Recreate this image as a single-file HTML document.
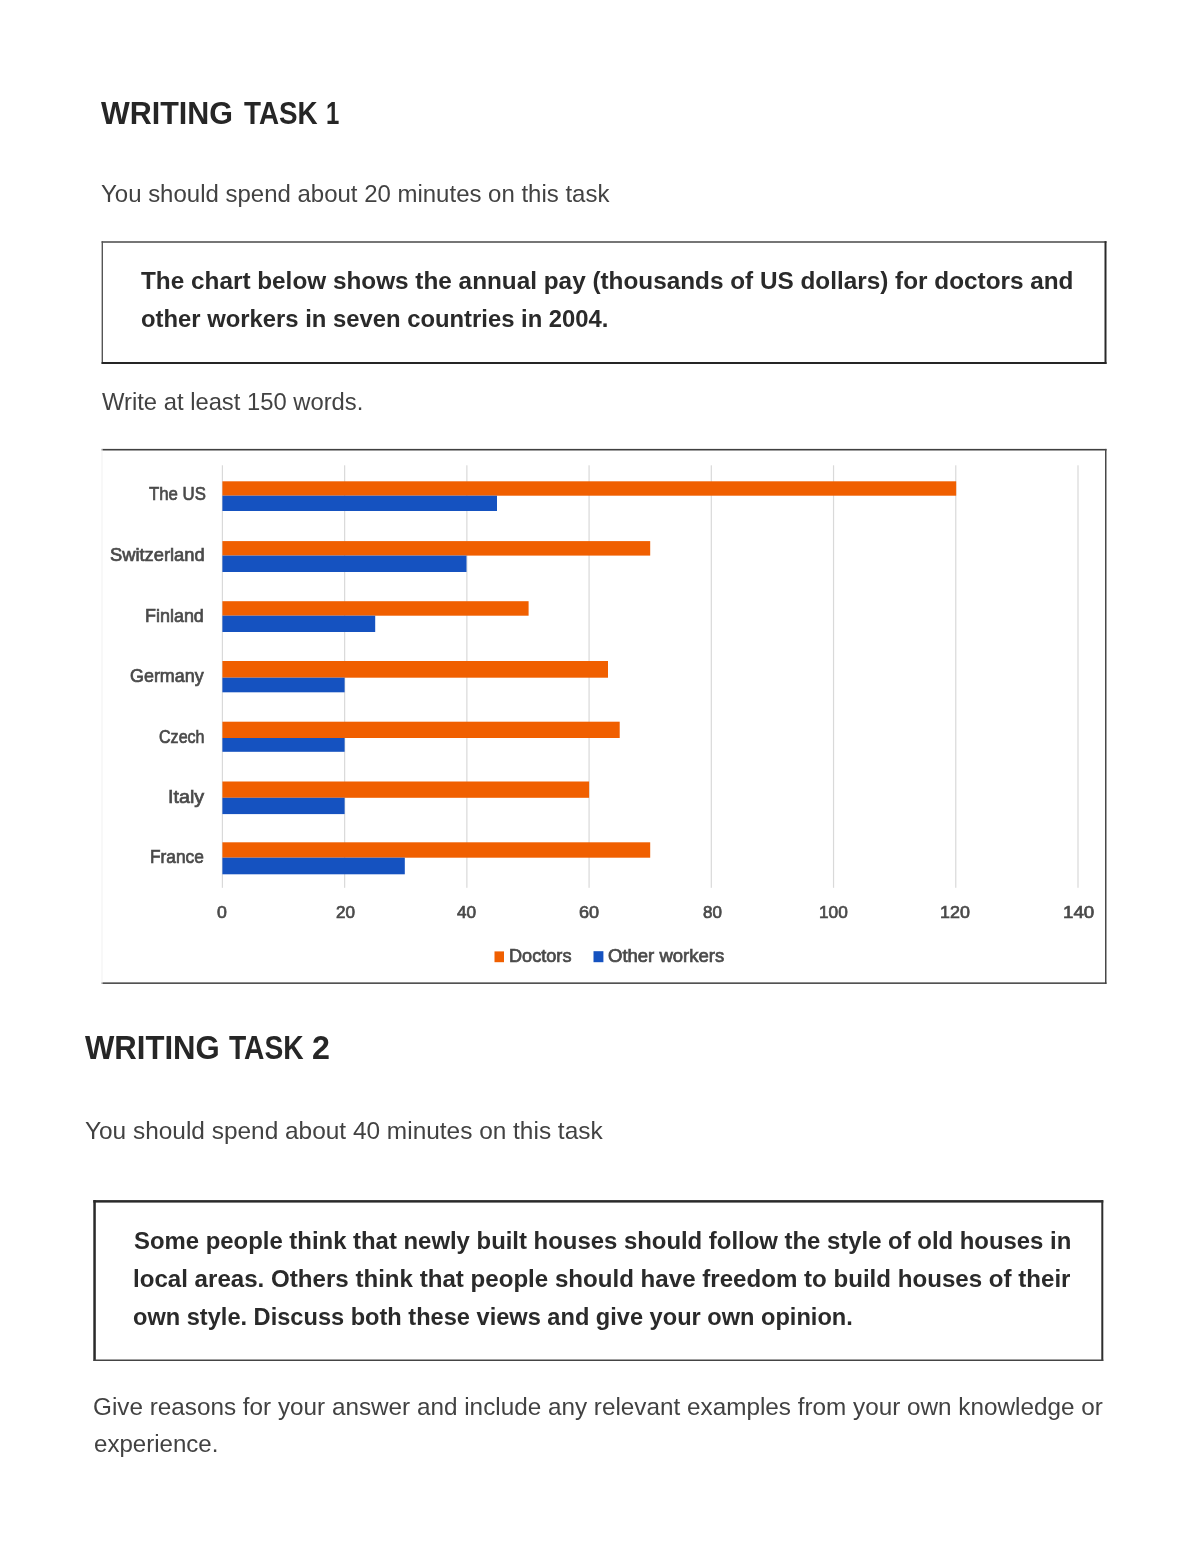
<!DOCTYPE html>
<html><head><meta charset="utf-8"><title>Writing Tasks</title><style>
html,body{margin:0;padding:0;background:#fff;width:1200px;height:1553px;overflow:hidden;}
body{position:relative;font-family:"Liberation Sans",sans-serif;}
.t{position:absolute;white-space:nowrap;transform-origin:0 0;}
svg{position:absolute;left:0;top:0;}
</style></head><body>
<svg width="1200" height="1553" viewBox="0 0 1200 1553">
<rect x="101.60" y="241.20" width="1004.90" height="1.60" fill="#555"/>
<rect x="101.60" y="241.20" width="1.40" height="122.80" fill="#555"/>
<rect x="1104.50" y="241.20" width="2.00" height="122.80" fill="#2a2a2a"/>
<rect x="101.60" y="362.00" width="1004.90" height="2.00" fill="#252525"/>
<rect x="101.50" y="448.90" width="1005.00" height="1.60" fill="#404040"/>
<rect x="1105.00" y="448.90" width="1.50" height="535.00" fill="#484848"/>
<rect x="101.50" y="982.40" width="1005.00" height="1.50" fill="#404040"/>
<rect x="101.50" y="448.90" width="1.00" height="535.00" fill="#f2f2f2"/>
<rect x="221.80" y="465.30" width="1.20" height="422.50" fill="#d9d9d9"/>
<rect x="344.03" y="465.30" width="1.20" height="422.50" fill="#d9d9d9"/>
<rect x="466.26" y="465.30" width="1.20" height="422.50" fill="#d9d9d9"/>
<rect x="588.48" y="465.30" width="1.20" height="422.50" fill="#d9d9d9"/>
<rect x="710.71" y="465.30" width="1.20" height="422.50" fill="#d9d9d9"/>
<rect x="832.94" y="465.30" width="1.20" height="422.50" fill="#d9d9d9"/>
<rect x="955.17" y="465.30" width="1.20" height="422.50" fill="#d9d9d9"/>
<rect x="1077.40" y="465.30" width="1.20" height="422.50" fill="#d9d9d9"/>
<rect x="222.40" y="481.30" width="733.80" height="14.40" fill="#f05f00"/>
<rect x="222.40" y="495.70" width="274.60" height="15.30" fill="#1552c0"/>
<rect x="222.40" y="541.10" width="427.80" height="14.50" fill="#f05f00"/>
<rect x="222.40" y="555.60" width="244.10" height="16.40" fill="#1552c0"/>
<rect x="222.40" y="601.20" width="306.20" height="14.50" fill="#f05f00"/>
<rect x="222.40" y="615.70" width="152.80" height="16.30" fill="#1552c0"/>
<rect x="222.40" y="661.00" width="385.60" height="16.70" fill="#f05f00"/>
<rect x="222.40" y="677.70" width="122.20" height="14.60" fill="#1552c0"/>
<rect x="222.40" y="721.70" width="397.30" height="16.30" fill="#f05f00"/>
<rect x="222.40" y="738.00" width="122.20" height="13.80" fill="#1552c0"/>
<rect x="222.40" y="781.50" width="366.70" height="16.30" fill="#f05f00"/>
<rect x="222.40" y="797.80" width="122.20" height="16.30" fill="#1552c0"/>
<rect x="222.40" y="842.30" width="427.80" height="15.40" fill="#f05f00"/>
<rect x="222.40" y="857.70" width="182.40" height="16.60" fill="#1552c0"/>
<rect x="494.50" y="951.40" width="9.50" height="10.80" fill="#f05f00"/>
<rect x="593.50" y="951.20" width="9.90" height="11.00" fill="#1552c0"/>
<rect x="93.30" y="1200.10" width="1010.00" height="2.50" fill="#2a2a2a"/>
<rect x="93.30" y="1200.10" width="2.50" height="160.90" fill="#2a2a2a"/>
<rect x="1101.30" y="1200.30" width="2.00" height="160.70" fill="#2e2e2e"/>
<rect x="93.70" y="1359.50" width="1009.60" height="1.50" fill="#444"/>
</svg>
<div class="t" style="left:101.30px;top:98px;font-size:31.5px;line-height:31.5px;font-weight:bold;color:#262626;transform:scaleX(0.9672);">WRITING</div>
<div class="t" style="left:243.75px;top:98px;font-size:31.5px;line-height:31.5px;font-weight:bold;color:#262626;transform:scaleX(0.8829);">TASK</div>
<div class="t" style="left:326.31px;top:98px;font-size:31.5px;line-height:31.5px;font-weight:bold;color:#262626;transform:scaleX(0.7585);">1</div>
<div class="t" style="left:101.20px;top:182px;font-size:24.2px;line-height:24.2px;font-weight:normal;color:#424242;transform:scaleX(0.9915);">You should spend about 20 minutes on this task</div>
<div class="t" style="left:141.10px;top:269px;font-size:24.2px;line-height:24.2px;font-weight:bold;color:#2a2a2a;transform:scaleX(1.0056);">The chart below shows the annual pay (thousands of US dollars) for doctors and</div>
<div class="t" style="left:140.61px;top:307px;font-size:24.2px;line-height:24.2px;font-weight:bold;color:#2a2a2a;transform:scaleX(0.9851);">other workers in seven countries in 2004.</div>
<div class="t" style="left:101.60px;top:390px;font-size:24.2px;line-height:24.2px;font-weight:normal;color:#424242;transform:scaleX(0.9835);">Write at least 150 words.</div>
<div class="t" style="left:84.60px;top:1032px;font-size:32.5px;line-height:32.5px;font-weight:bold;color:#262626;transform:scaleX(0.9569);">WRITING</div>
<div class="t" style="left:229.00px;top:1032px;font-size:32.5px;line-height:32.5px;font-weight:bold;color:#262626;transform:scaleX(0.8668);">TASK</div>
<div class="t" style="left:312.49px;top:1032px;font-size:32.5px;line-height:32.5px;font-weight:bold;color:#262626;transform:scaleX(0.9908);">2</div>
<div class="t" style="left:84.50px;top:1119px;font-size:24.2px;line-height:24.2px;font-weight:normal;color:#424242;transform:scaleX(1.0095);">You should spend about 40 minutes on this task</div>
<div class="t" style="left:133.71px;top:1229px;font-size:24.2px;line-height:24.2px;font-weight:bold;color:#2a2a2a;transform:scaleX(0.9879);">Some people think that newly built houses should follow the style of old houses in</div>
<div class="t" style="left:132.71px;top:1267px;font-size:24.2px;line-height:24.2px;font-weight:bold;color:#2a2a2a;transform:scaleX(0.9965);">local areas. Others think that people should have freedom to build houses of their</div>
<div class="t" style="left:133.42px;top:1305px;font-size:24.2px;line-height:24.2px;font-weight:bold;color:#2a2a2a;transform:scaleX(0.9755);">own style. Discuss both these views and give your own opinion.</div>
<div class="t" style="left:93.40px;top:1395px;font-size:24.2px;line-height:24.2px;font-weight:normal;color:#424242;transform:scaleX(1.0041);">Give reasons for your answer and include any relevant examples from your own knowledge or</div>
<div class="t" style="left:93.60px;top:1432px;font-size:24.2px;line-height:24.2px;font-weight:normal;color:#424242;transform:scaleX(0.9952);">experience.</div>
<div class="t" style="left:148.99px;top:485px;font-size:18.6px;line-height:18.6px;font-weight:normal;color:#4a4a4a;transform:scaleX(0.9022);-webkit-text-stroke:0.7px #4a4a4a;filter:blur(0.25px)">The US</div>
<div class="t" style="left:109.56px;top:546px;font-size:18.6px;line-height:18.6px;font-weight:normal;color:#4a4a4a;transform:scaleX(0.9852);-webkit-text-stroke:0.7px #4a4a4a;filter:blur(0.25px)">Switzerland</div>
<div class="t" style="left:145.40px;top:607px;font-size:18.6px;line-height:18.6px;font-weight:normal;color:#4a4a4a;transform:scaleX(0.9647);-webkit-text-stroke:0.7px #4a4a4a;filter:blur(0.25px)">Finland</div>
<div class="t" style="left:129.98px;top:667px;font-size:18.6px;line-height:18.6px;font-weight:normal;color:#4a4a4a;transform:scaleX(0.9631);-webkit-text-stroke:0.7px #4a4a4a;filter:blur(0.25px)">Germany</div>
<div class="t" style="left:158.57px;top:728px;font-size:18.6px;line-height:18.6px;font-weight:normal;color:#4a4a4a;transform:scaleX(0.8643);-webkit-text-stroke:0.7px #4a4a4a;filter:blur(0.25px)">Czech</div>
<div class="t" style="left:167.55px;top:788px;font-size:18.6px;line-height:18.6px;font-weight:normal;color:#4a4a4a;transform:scaleX(1.0582);-webkit-text-stroke:0.7px #4a4a4a;filter:blur(0.25px)">Italy</div>
<div class="t" style="left:149.95px;top:848px;font-size:18.6px;line-height:18.6px;font-weight:normal;color:#4a4a4a;transform:scaleX(0.9309);-webkit-text-stroke:0.7px #4a4a4a;filter:blur(0.25px)">France</div>
<div class="t" style="left:216.74px;top:904px;font-size:17.4px;line-height:17.4px;font-weight:normal;color:#4a4a4a;transform:scaleX(1.0179);-webkit-text-stroke:0.7px #4a4a4a;filter:blur(0.25px)">0</div>
<div class="t" style="left:335.81px;top:904px;font-size:17.4px;line-height:17.4px;font-weight:normal;color:#4a4a4a;transform:scaleX(0.9817);-webkit-text-stroke:0.7px #4a4a4a;filter:blur(0.25px)">20</div>
<div class="t" style="left:457.45px;top:904px;font-size:17.4px;line-height:17.4px;font-weight:normal;color:#4a4a4a;transform:scaleX(0.9876);-webkit-text-stroke:0.7px #4a4a4a;filter:blur(0.25px)">40</div>
<div class="t" style="left:579.02px;top:904px;font-size:17.4px;line-height:17.4px;font-weight:normal;color:#4a4a4a;transform:scaleX(1.0376);-webkit-text-stroke:0.7px #4a4a4a;filter:blur(0.25px)">60</div>
<div class="t" style="left:702.67px;top:904px;font-size:17.4px;line-height:17.4px;font-weight:normal;color:#4a4a4a;transform:scaleX(0.9762);-webkit-text-stroke:0.7px #4a4a4a;filter:blur(0.25px)">80</div>
<div class="t" style="left:819.06px;top:904px;font-size:17.4px;line-height:17.4px;font-weight:normal;color:#4a4a4a;transform:scaleX(0.9906);-webkit-text-stroke:0.7px #4a4a4a;filter:blur(0.25px)">100</div>
<div class="t" style="left:940.01px;top:904px;font-size:17.4px;line-height:17.4px;font-weight:normal;color:#4a4a4a;transform:scaleX(1.0276);-webkit-text-stroke:0.7px #4a4a4a;filter:blur(0.25px)">120</div>
<div class="t" style="left:1062.95px;top:904px;font-size:17.4px;line-height:17.4px;font-weight:normal;color:#4a4a4a;transform:scaleX(1.0738);-webkit-text-stroke:0.7px #4a4a4a;filter:blur(0.25px)">140</div>
<div class="t" style="left:509.42px;top:948px;font-size:17.8px;line-height:17.8px;font-weight:normal;color:#4a4a4a;transform:scaleX(1.0198);-webkit-text-stroke:0.7px #4a4a4a;filter:blur(0.25px)">Doctors</div>
<div class="t" style="left:608.22px;top:948px;font-size:17.8px;line-height:17.8px;font-weight:normal;color:#4a4a4a;transform:scaleX(1.0401);-webkit-text-stroke:0.7px #4a4a4a;filter:blur(0.25px)">Other workers</div>
</body></html>
